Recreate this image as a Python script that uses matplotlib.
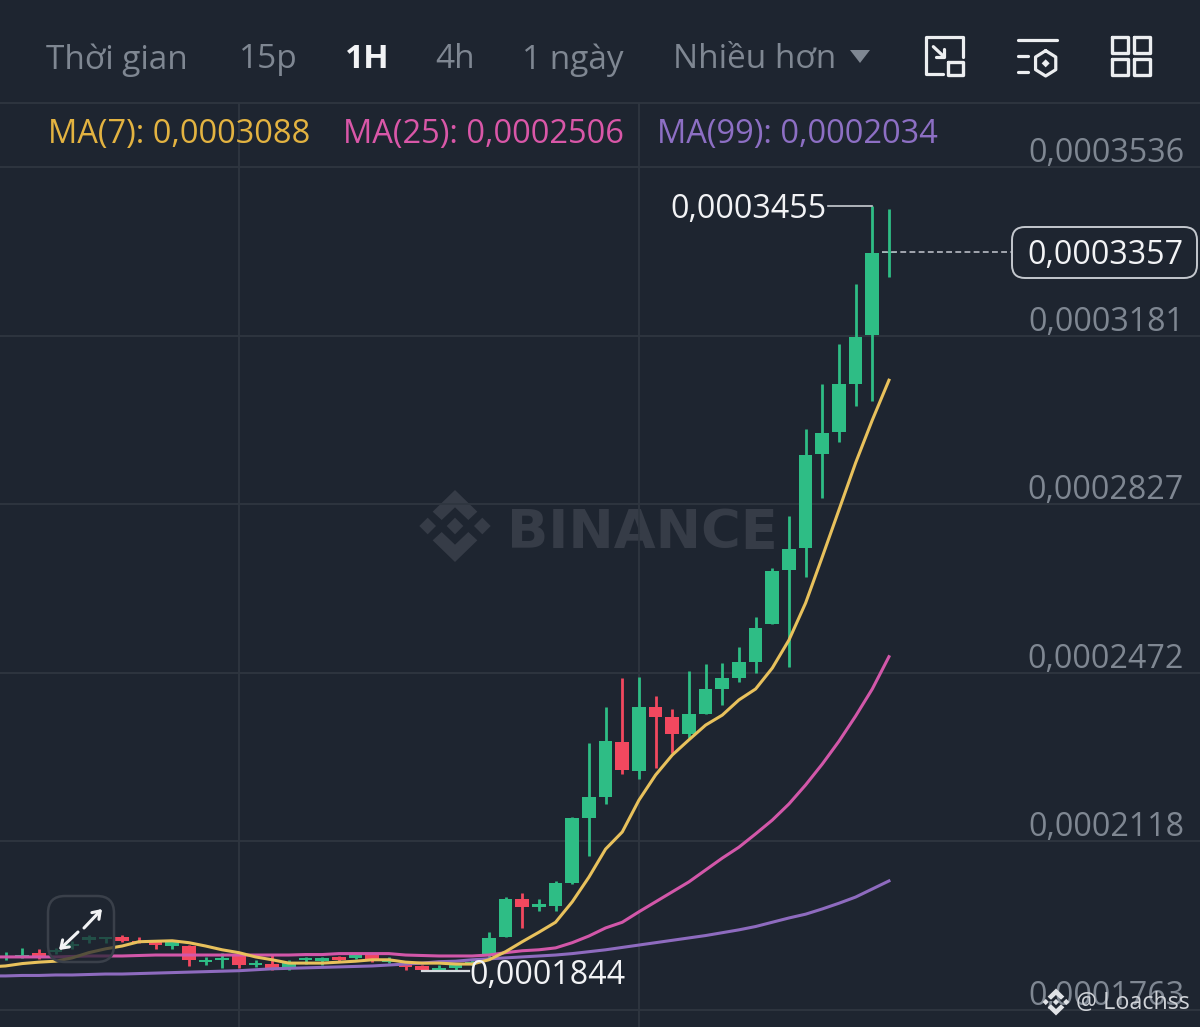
import matplotlib as mpl
mpl.use('Agg')
import matplotlib.pyplot as plt
from matplotlib.patches import FancyBboxPatch, Polygon
from matplotlib.transforms import ScaledTranslation
import numpy as np

# prices are in units of 0.0000001
opens = [1872,1872,1883,1885,1897,1910,1912,1916,1908,1906,1897,1897,1863,1868,1878,1857,1859,1853,1868,1865,1874,1872,1878,1863,1861,1855,1845,1851,1861,
         1878,1916,1996,1979,1981,2030,2166,2211,2326,2265,2400,2379,2343,2385,2438,2461,2495,2575,2688,2735,2933,2979,3080,3183,3356]
closes = [1876,1878,1876,1889,1902,1916,1916,1908,1904,1900,1906,1868,1868,1872,1857,1861,1851,1861,1872,1872,1868,1878,1868,1868,1853,1847,1851,1859,1863,
          1914,1996,1979,1985,2030,2166,2211,2328,2267,2400,2379,2343,2385,2438,2461,2495,2566,2686,2733,2931,2977,3080,3179,3356,3357]
highs = [1885,1893,1891,1893,1908,1920,1916,1920,1916,1906,1908,1900,1874,1883,1878,1868,1878,1868,1874,1874,1876,1881,1881,1874,1861,1857,1857,1861,1868,
         1926,2000,2009,1996,2034,2168,2324,2400,2461,2463,2423,2396,2476,2491,2493,2526,2590,2693,2802,2985,3080,3164,3290,3455,3448]
lows = [1868,1872,1870,1881,1891,1904,1904,1906,1904,1891,1891,1855,1857,1851,1851,1853,1847,1847,1859,1857,1865,1870,1863,1861,1847,1844,1845,1847,1857,
        1868,1916,1935,1971,1971,2027,2086,2196,2259,2248,2272,2303,2335,2385,2404,2453,2472,2575,2484,2674,2840,2958,3034,3044,3305]
# the averages start one candle left of the first whole candle
ma7 = [1853,1855,1860,1863,1865,1872,1883,1891,1897,1906,1907,1908,1904,1897,1889,1883,1874,1868,1861,1861,1861,1863,1865,1868,1868,1863,1861,1861,1859,1859,
       1868,1885,1906,1926,1947,1990,2042,2101,2137,2204,2257,2299,2331,2362,2383,2415,2438,2482,2541,2619,2716,2815,2914,3004,3088]
ma25 = [1874,1874,1874,1874,1874,1875,1876,1876,1876,1877,1878,1878,1878,1878,1878,1878,1878,1878,1878,1879,1879,1881,1881,1881,1881,1878,1877,1876,1876,1876,
        1878,1883,1887,1889,1893,1904,1918,1935,1947,1969,1990,2011,2032,2057,2082,2105,2133,2162,2196,2236,2280,2328,2381,2438,2506]
ma99 = [1834,1834,1835,1835,1836,1836,1837,1838,1838,1839,1840,1841,1842,1843,1844,1845,1847,1849,1850,1851,1852,1853,1854,1855,1857,1859,1861,1864,1865,1868,
        1870,1872,1874,1876,1878,1881,1885,1889,1894,1899,1904,1909,1914,1919,1925,1931,1938,1947,1956,1964,1975,1987,2000,2017,2034]
price_ticks = [3536,3181,2827,2472,2118,1763]
price_labels = ['0,0003536','0,0003181','0,0002827','0,0002472','0,0002118','0,0001763']
grid_candles = [14,38]
tabs = ['Thời gian','15p','1H','4h','1 ngày','Nhiều hơn']
tab_x = [46,239,345,435,522,673]
ma_text = ['MA(7): 0,0003088','MA(25): 0,0002506','MA(99): 0,0002034']
ma_x = [48,343,657]

BG = '#1e2530'
GRID = '#2f3640'
MARK = '#363c47'
GREEN = '#2ebd85'
RED = '#f2485f'
YELLOW = '#e8c15c'
PINK = '#d257a9'
PURPLE = '#8e6bbf'
GREY = '#7f8792'
WHITE = '#f2f3f5'
plt.rcParams['font.family'] = ['Open Sans','DejaVu Sans']

fig = plt.figure(figsize=(12,10.27),dpi=100,facecolor=BG)

# price chart, below the header
ax = fig.add_axes([0,0,1,924/1027],facecolor=BG)
ax.set_xlim(-0.33,71.66)
ax.set_ylim(1726.5,3671.5)
for s in ax.spines.values():
    s.set_visible(False)
ax.set_xticks(grid_candles)
ax.set_yticks(price_ticks,price_labels)
ax.grid(color=GRID,linewidth=1.3)
ax.set_axisbelow(True)
ax.tick_params(axis='x',bottom=False,labelbottom=False)
ax.tick_params(axis='y',left=False,right=False,labelleft=False,labelright=True,pad=-15,labelsize=23.2,labelcolor=GREY)
down = ScaledTranslation(0,-2.2/72,fig.dpi_scale_trans)
for l in ax.get_yticklabels():
    l.set_ha('right')
    l.set_va('bottom')
    l.set_transform(l.get_transform()+down)

idx = np.arange(len(opens))
ma_idx = np.arange(-1,len(opens))
o = np.array(opens)
c = np.array(closes)
colors = [GREEN if c[i] >= o[i] else RED for i in idx]
ax.vlines(idx,lows,highs,colors=colors,linewidth=2,zorder=3)
ax.bar(idx,np.abs(c-o),bottom=np.minimum(o,c),width=0.82,color=colors,linewidth=0,zorder=3)
ax.plot(ma_idx,ma99,color=PURPLE,linewidth=2.2,zorder=4)
ax.plot(ma_idx,ma25,color=PINK,linewidth=2.2,zorder=4)
ax.plot(ma_idx,ma7,color=YELLOW,linewidth=2.2,zorder=4)

# high, low and last price markers
hi = int(np.argmax(highs))
lo = int(np.argmin(lows))
ax.plot([hi-2.65,hi],[highs[hi],highs[hi]],color='#c8ccd2',linewidth=1.2,zorder=5)
ax.plot([lo,lo+2.8],[lows[lo],lows[lo]],color='#d8dbe0',linewidth=1.6,zorder=5)
ax.plot([idx[-1]-0.4,67.3],[closes[-1],closes[-1]],color='#b8bcc4',linewidth=1.2,linestyle=(0,(3.5,2)),zorder=5)

# everything else is placed in pixels of the screenshot
ui = fig.add_axes([0,0,1,1],facecolor='none')
ui.set_xlim(0,1200)
ui.set_ylim(1027,0)
ui.axis('off')

ui.text(748,209,'0,0003455',color=WHITE,fontsize=23.2,ha='center',va='center')
ui.text(547,976,'0,0001844',color=WHITE,fontsize=23.2,ha='center',va='center')
ui.add_patch(FancyBboxPatch((1012,227),185,51,boxstyle='round,pad=0,rounding_size=13',fc=BG,ec='#c4c8ce',lw=1.4))
ui.text(1105,256,'0,0003357',color=WHITE,fontsize=23.2,ha='center',va='center')

# header
ui.plot([0,1200],[103,103],color=GRID,linewidth=1.3)
for t,x in zip(tabs,tab_x):
    active = t == '1H'
    ui.text(x,60,t,color=WHITE if active else GREY,fontsize=24,ha='left',va='center',fontweight='bold' if active else 'normal')
ui.add_patch(Polygon([(850,50),(870,50),(860,63)],closed=True,fc=GREY,ec='none'))
for t,x,col in zip(ma_text,ma_x,['#e3b341','#d957a8','#8d6fc4']):
    ui.text(x,135,t,color=col,fontsize=23.5,ha='left',va='center')

# header icons
def iz(x,y):
    return 900+x/3,20+y/3
def stroke(pts,lw=2.3):
    p = [iz(*q) for q in pts]
    ui.plot([q[0] for q in p],[q[1] for q in p],color='#eceef0',linewidth=lw,solid_capstyle='round',solid_joinstyle='round')
def box(x0,y0,x1,y1):
    stroke([(x0,y0),(x1,y0),(x1,y1),(x0,y1),(x0,y0)],2.4)
stroke([(128,163),(78,163),(78,52),(190,52),(190,110)])
box(145,125,190,165)
stroke([(132,110),(100,80)])
stroke([(132,88),(132,110),(108,110)])
stroke([(355,60),(472,60)])
stroke([(355,108),(385,108)])
stroke([(355,157),(385,157)])
hx = 437+35*np.sin(np.arange(7)*np.pi/3)
hy = 130-38*np.cos(np.arange(7)*np.pi/3)
stroke(list(zip(hx,hy)))
ui.add_patch(Polygon([iz(437,118),iz(449,130),iz(437,142),iz(425,130)],closed=True,fc='#eceef0',ec='none'))
box(637,52,685,100)
box(702,52,750,100)
box(637,118,685,165)
box(702,118,750,165)

# the diamond logo, two chevrons and three small diamonds
def logo(axis,cx,cy,s,col,z):
    top = [(0,-108),(67,-43),(40,-18),(0,-56),(-40,-18),(-67,-43)]
    parts = [top,[(x,-y) for x,y in top]]
    for d in [-82,82,0]:
        parts.append([(d,-25),(d+25,0),(d,25),(d-25,0)])
    for part in parts:
        pts = [(cx+x*s,cy+y*s) for x,y in part]
        axis.add_patch(Polygon(pts,closed=True,fc=col,ec='none',zorder=z,transform=ui.transData))

# watermark under the grid and candles
logo(ax,455,526,1/3,MARK,0.4)
ax.text(642,533,'BINANCE',transform=ui.transData,color=MARK,fontsize=39,fontweight='bold',family='DejaVu Sans',ha='center',va='center',zorder=0.4)

# zoom button
ui.add_patch(FancyBboxPatch((48,896),66,66,boxstyle='round,pad=0,rounding_size=17',fc=(0.118,0.145,0.188,0.72),ec='#3a404a',lw=1.8))
ui.annotate('',xy=(102,909),xytext=(84,928),arrowprops=dict(arrowstyle='->,head_length=0.5,head_width=0.35',color=WHITE,lw=2.2,shrinkA=0,shrinkB=0))
ui.annotate('',xy=(59,950),xytext=(78,932),arrowprops=dict(arrowstyle='->,head_length=0.5,head_width=0.35',color=WHITE,lw=2.2,shrinkA=0,shrinkB=0))

# author mark, bottom right
logo(ui,1056,1002,0.125,'#e0e2e6',6)
ui.text(1076,1003,'@ Loachss',color='#d0d3d8',fontsize=16.8,ha='left',va='center')

fig.savefig('out.png',dpi=100,facecolor=BG)
